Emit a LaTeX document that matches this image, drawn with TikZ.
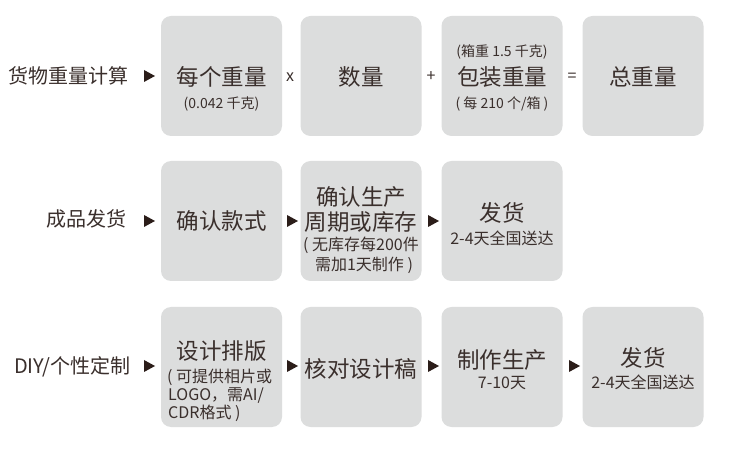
\documentclass[tikz,border=0pt]{standalone}
\usepackage{fontspec}
\setmainfont{Noto Sans CJK SC}
\definecolor{boxgray}{HTML}{DCDDDD}
\definecolor{inkc}{HTML}{3A2F2C}
\definecolor{tric}{HTML}{2B1D19}
\newcommand\fsz[1]{\fontsize{#1pt}{#1pt}\selectfont}
\begin{document}
\begin{tikzpicture}[x=1pt,y=-1pt,
  stepbox/.style={fill=boxgray, rounded corners=10pt, minimum width=121pt, minimum height=120pt, inner sep=0pt},
  txt/.style={text=inkc, inner sep=0pt, font=\fsz{22.5}},
  subt/.style={text=inkc, inner sep=0pt, font=\fsz{16}},
  tinyt/.style={text=inkc, inner sep=0pt, font=\fsz{14}},
  opt/.style={text=inkc, inner sep=0pt, font=\fsz{16}},
  lab/.style={text=inkc, inner sep=0pt, anchor=east, font=\fsz{20}},
  tri/.style={fill=tric},
]
\fill[white] (0,0) rectangle (750,470);
\useasboundingbox (0,0) rectangle (750,470);

% boxes
\node[stepbox] (b11) at (221.5,76) {};
\node[stepbox] (b12) at (361,76) {};
\node[stepbox] (b13) at (502,76) {};
\node[stepbox] (b14) at (643,76) {};
\node[stepbox] (b21) at (221.5,221) {};
\node[stepbox] (b22) at (361,221) {};
\node[stepbox] (b23) at (502,221) {};
\node[stepbox] (b31) at (221.5,367) {};
\node[stepbox] (b32) at (361,367) {};
\node[stepbox] (b33) at (502,367) {};
\node[stepbox] (b34) at (643,367) {};

% row 1
\node[lab] (l1) at (129,76) {货物重量计算};
\node[txt] (t11) at (221.5,77) {每个重量};
\node[tinyt] (s11) at (221.5,103.5) {(0.042 千克)};
\node[opt] (op1) at (290,77) {x};
\node[txt] (t12) at (361,77) {数量};
\node[opt] (op2) at (431,77) {+};
\node[tinyt] (s13a) at (502,51.5) {(箱重 1.5 千克)};
\node[txt] (t13) at (502,77) {包装重量};
\node[tinyt] (s13b) at (502,103.5) {( 每 210 个/箱 )};
\node[opt] (op3) at (572,77) {=};
\node[txt] (t14) at (643,77) {总重量};

% row 2
\node[lab] (l2) at (127,219) {成品发货};
\node[txt] (t21) at (221.5,221) {确认款式};
\node[txt] (t22a) at (361,197) {确认生产};
\node[txt] (t22b) at (361,222) {周期或库存};
\node[subt] (s22a) at (361,245) {( 无库存每200件};
\node[subt] (s22b) at (364,265) {需加1天制作 )};
\node[txt] (t23) at (502,213) {发货};
\node[subt] (s23) at (502,238) {2-4天全国送达};

% row 3
\node[lab] (l3) at (131,367) {DIY/个性定制};
\node[txt] (t31) at (221.5,351) {设计排版};
\node[subt, anchor=base west] (s31a) at (167,382) {( 可提供相片或};
\node[subt, anchor=base west] (s31b) at (168,400) {LOGO，需AI/};
\node[subt, anchor=base west] (s31c) at (168,418) {CDR格式 )};
\node[txt] (t32) at (361,369) {核对设计稿};
\node[txt] (t33) at (502,360) {制作生产};
\node[subt] (s33) at (502,383) {7-10天};
\node[txt] (t34) at (643,358) {发货};
\node[subt] (s34) at (643,382) {2-4天全国送达};

% arrow triangles
\foreach \n/\x/\y in {a1/149/76, a21/149/221, a22/292/221, a23/433/221,
                      a31/149/366, a32/292/366, a33/433/366, a34/574/366}{
  \coordinate (\n) at (\x,\y);
  \fill[tri] (\n) ++(-5,-6) -- ++(11,6) -- ++(-11,6) -- cycle;
}
\end{tikzpicture}
\end{document}
